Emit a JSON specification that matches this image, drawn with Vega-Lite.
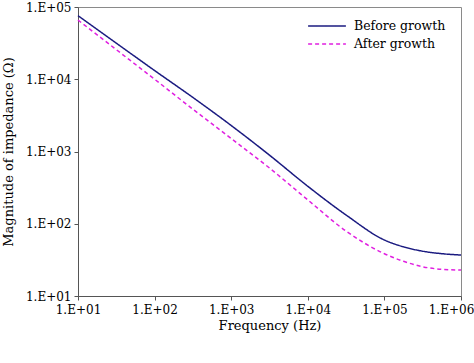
{
  "$schema": "https://vega.github.io/schema/vega-lite/v6.json",
  "width": 383,
  "height": 289,
  "autosize": {"type": "none"},
  "padding": {"left": 78, "top": 7, "right": 13, "bottom": 67},
  "background": "white",
  "config": {
    "view": {"stroke": "#8a8a8a", "strokeWidth": 1},
    "font": "DejaVu Serif",
    "axis": {
      "grid": false,
      "domainColor": "#555555",
      "tickColor": "#555555",
      "tickSize": 4,
      "labelFont": "DejaVu Serif",
      "labelFontSize": 12,
      "labelColor": "#000000",
      "titleFont": "DejaVu Serif",
      "titleFontSize": 13,
      "titleFontWeight": "normal",
      "titleColor": "#000000"
    },
    "legend": {"labelFont": "DejaVu Serif"}
  },
  "data": {
    "values": [
      {"f": 10, "z": 75900, "series": "Before growth"},
      {"f": 31.6, "z": 31600, "series": "Before growth"},
      {"f": 100, "z": 13200, "series": "Before growth"},
      {"f": 316, "z": 5600, "series": "Before growth"},
      {"f": 1000, "z": 2290, "series": "Before growth"},
      {"f": 3162, "z": 890, "series": "Before growth"},
      {"f": 10000, "z": 330, "series": "Before growth"},
      {"f": 31623, "z": 132, "series": "Before growth"},
      {"f": 100000, "z": 59.6, "series": "Before growth"},
      {"f": 177828, "z": 47.9, "series": "Before growth"},
      {"f": 316228, "z": 41.7, "series": "Before growth"},
      {"f": 562341, "z": 38.5, "series": "Before growth"},
      {"f": 1000000, "z": 36.9, "series": "Before growth"},
      {"f": 10, "z": 66000, "series": "After growth"},
      {"f": 31.6, "z": 25700, "series": "After growth"},
      {"f": 100, "z": 10000, "series": "After growth"},
      {"f": 316, "z": 3850, "series": "After growth"},
      {"f": 1000, "z": 1510, "series": "After growth"},
      {"f": 3162, "z": 590, "series": "After growth"},
      {"f": 10000, "z": 214, "series": "After growth"},
      {"f": 31623, "z": 79, "series": "After growth"},
      {"f": 100000, "z": 38.5, "series": "After growth"},
      {"f": 177828, "z": 30.2, "series": "After growth"},
      {"f": 316228, "z": 25.4, "series": "After growth"},
      {"f": 562341, "z": 23.4, "series": "After growth"},
      {"f": 1000000, "z": 22.9, "series": "After growth"}
    ]
  },
  "mark": {"type": "line", "interpolate": "monotone", "strokeWidth": 1.5},
  "encoding": {
    "x": {
      "field": "f",
      "type": "quantitative",
      "scale": {"type": "log", "domain": [10, 1000000], "nice": false},
      "axis": {
        "values": [10, 100, 1000, 10000, 100000, 1000000],
        "labelExpr": "'1.E+0' + round(log(datum.value)/LN10)",
        "title": "Frequency (Hz)",
        "labelPadding": 4,
        "titlePadding": 4,
        "labelFlush": false,
        "labelOffset": {"condition": {"test": "datum.value >= 1000000", "value": -10}, "value": 0}
      }
    },
    "y": {
      "field": "z",
      "type": "quantitative",
      "scale": {"type": "log", "domain": [10, 100000], "nice": false},
      "axis": {
        "values": [10, 100, 1000, 10000, 100000],
        "labelExpr": "'1.E+0' + round(log(datum.value)/LN10)",
        "title": "Magnitude of impedance (Ω)",
        "labelPadding": 3,
        "titlePadding": 10,
        "labelFlush": false
      }
    },
    "color": {
      "field": "series",
      "type": "nominal",
      "scale": {"domain": ["Before growth", "After growth"], "range": ["#1a1a80", "#e020e0"]},
      "legend": {
        "title": null,
        "orient": "none",
        "legendX": 239,
        "legendY": 9,
        "symbolType": "M-2.1,0H2.1",
        "symbolSize": 324,
        "symbolStrokeWidth": 1.5,
        "labelFont": "DejaVu Serif",
        "labelFontSize": 12.5,
        "labelColor": "#000000",
        "rowPadding": 1,
        "labelOffset": 17
      }
    },
    "strokeDash": {
      "field": "series",
      "type": "nominal",
      "scale": {"domain": ["Before growth", "After growth"], "range": [[1, 0], [4, 3]]},
      "legend": null
    }
  }
}
